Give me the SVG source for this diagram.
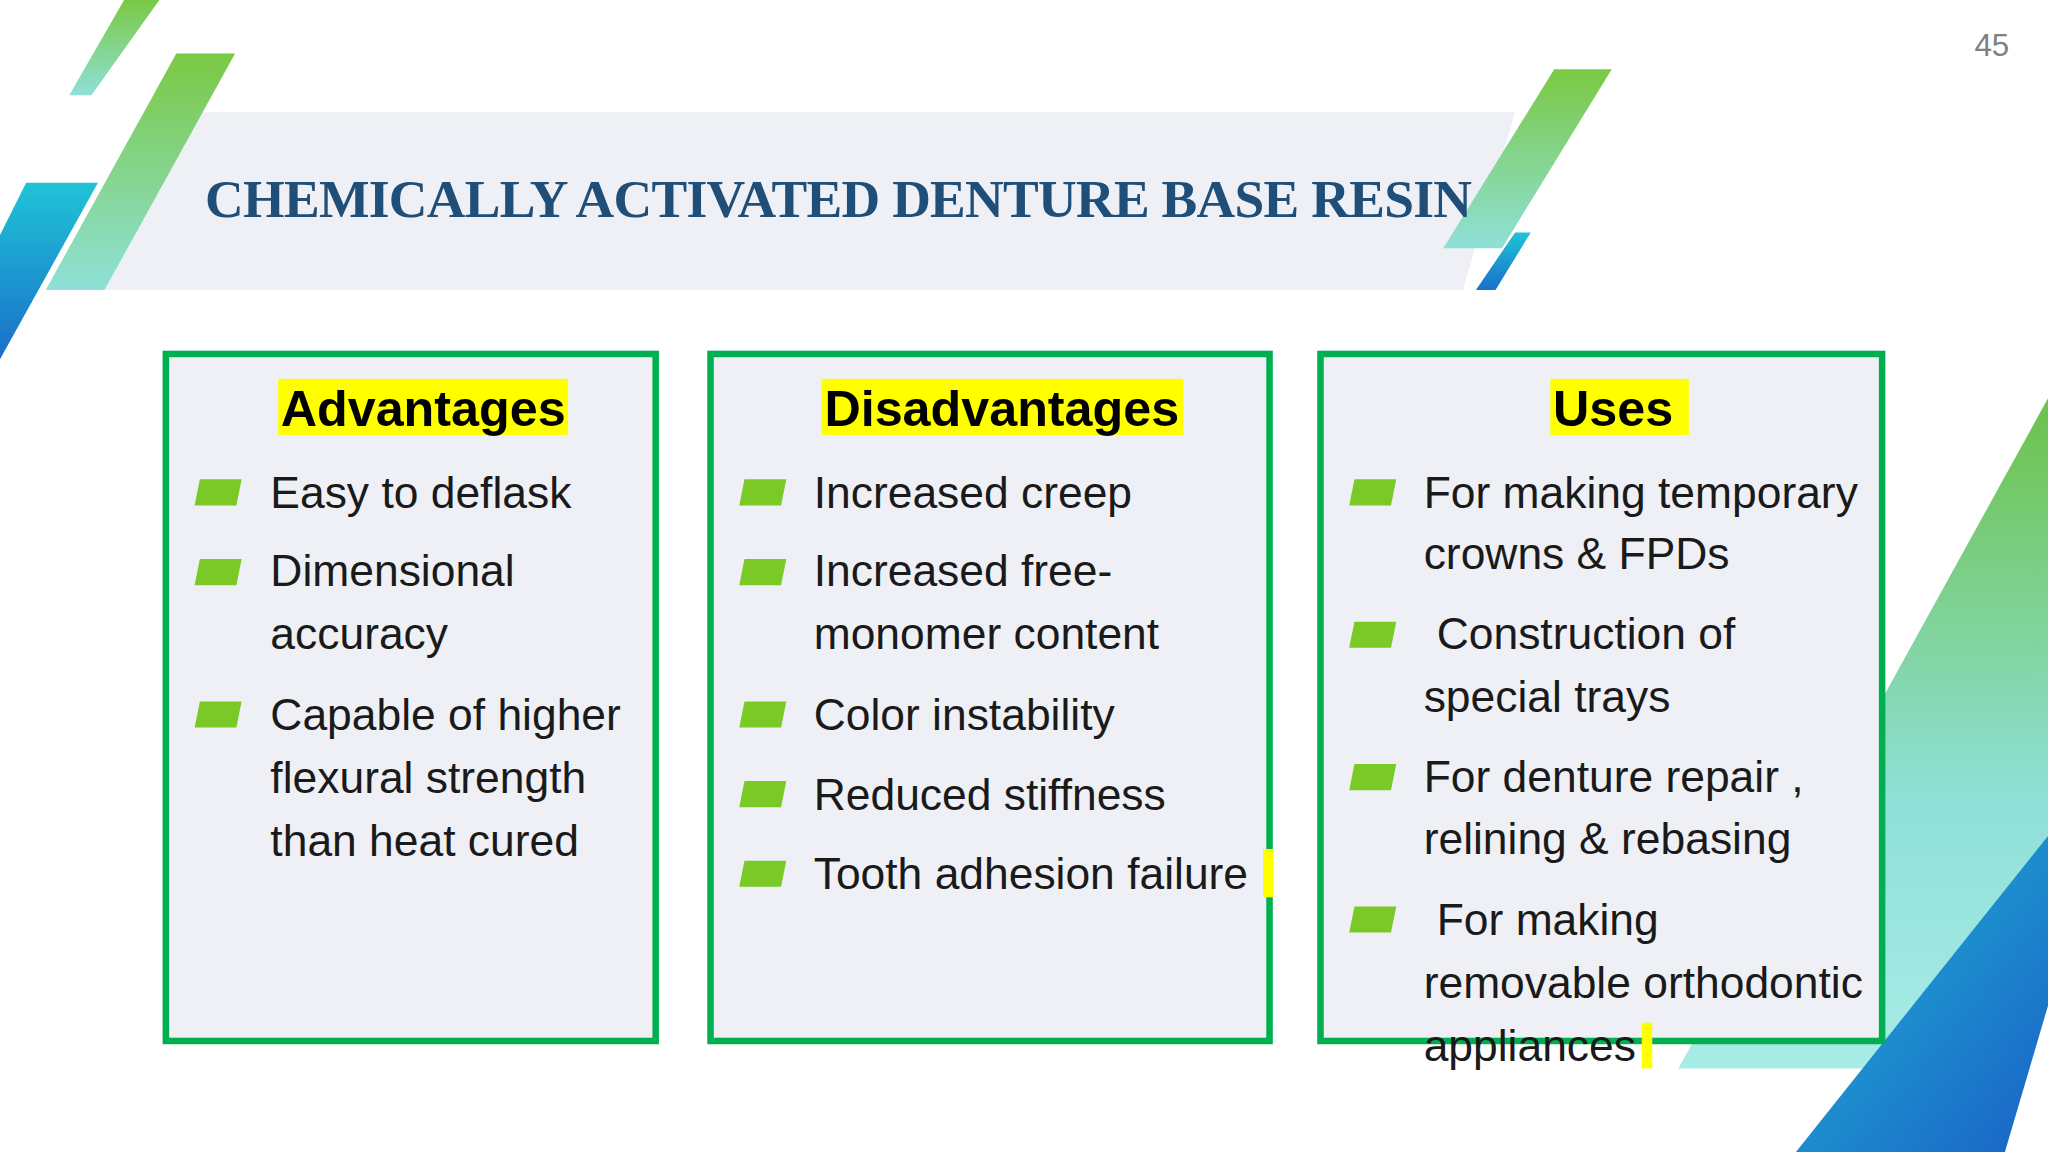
<svg xmlns="http://www.w3.org/2000/svg" width="2048" height="1152" viewBox="0 0 2048 1152">
<defs>
<linearGradient id="gt" x1="0" y1="0" x2="0" y2="1"><stop offset="0" stop-color="#7ac943"/><stop offset="1" stop-color="#8fe0d8"/></linearGradient>
<linearGradient id="gb" x1="0" y1="0" x2="0" y2="1"><stop offset="0" stop-color="#1fc4d6"/><stop offset="1" stop-color="#1a6fc9"/></linearGradient>
<linearGradient id="gr" x1="0" y1="0" x2="0" y2="1"><stop offset="0" stop-color="#6cc24a"/><stop offset="0.6" stop-color="#8fe0d8"/><stop offset="1" stop-color="#a8ece6"/></linearGradient>
<linearGradient id="gbr" x1="0" y1="0" x2="1" y2="1"><stop offset="0" stop-color="#20b7d6"/><stop offset="1" stop-color="#1a62c6"/></linearGradient>
<style>
.box{fill:#eef0f5;stroke:#00b050;stroke-width:5}
.hd{font-family:"Liberation Sans",Arial,sans-serif;font-weight:bold;font-size:38.5px;fill:#000;text-anchor:middle}
.t{font-family:"Liberation Sans",Arial,sans-serif;font-size:34px;fill:#1a1a1a}
.bl{fill:#7ac927}
.hl{fill:#ffff00}
</style>
<polygon id="bul" points="4,0 36,0 32,20 0,20"/>
</defs>
<rect width="2048" height="1152" fill="#ffffff"/>
<g transform="scale(1.30612)">
<g id="decor">
<polygon points="150,86 1160,86 1120,222 80,222" fill="#eef0f5"/>
<polygon points="95,0 122,0 70,73 53,73" fill="url(#gt)"/>
<polygon points="20,140 75,140 0,275 0,180" fill="url(#gb)"/>
<polygon points="135,41 180,41 80,222 35,222" fill="url(#gt)"/>
<polygon points="1190,53 1234,53 1150,190 1105,190" fill="url(#gt)"/>
<polygon points="1160,178 1172,178 1145,222 1130,222" fill="url(#gb)"/>
<polygon points="1568,305 1568,640 1460,818 1285,818" fill="url(#gr)"/>
<polygon points="1568,640 1568,770 1535,882 1375,882" fill="url(#gbr)"/>
</g>
<text x="1525" y="43" font-family="Liberation Sans,Arial,sans-serif" font-size="24" fill="#808080" text-anchor="middle">45</text>
<text id="title" x="157" y="166" font-family="Liberation Serif,Times New Roman,serif" font-weight="bold" font-size="41" fill="#1f4e79" textLength="970">CHEMICALLY ACTIVATED DENTURE BASE RESIN</text>
<g id="adv">
<rect class="box" x="127" y="271" width="375" height="526"/>
<rect class="hl" x="213" y="290" width="222" height="43"/>
<text class="hd" x="324" y="326">Advantages</text>
<use href="#bul" class="bl" x="149" y="367"/><use href="#bul" class="bl" x="149" y="428"/><use href="#bul" class="bl" x="149" y="537"/>
<text class="t" x="207" y="389">Easy to deflask</text>
<text class="t" x="207" y="449">Dimensional</text>
<text class="t" x="207" y="497">accuracy</text>
<text class="t" x="207" y="559">Capable of higher</text>
<text class="t" x="207" y="607">flexural strength</text>
<text class="t" x="207" y="655">than heat cured</text>
</g>
<g id="dis">
<rect class="box" x="544" y="271" width="428" height="526"/>
<rect class="hl" x="629" y="290" width="277" height="43"/>
<text class="hd" x="767" y="326">Disadvantages</text>
<use href="#bul" class="bl" x="566" y="367"/><use href="#bul" class="bl" x="566" y="428"/><use href="#bul" class="bl" x="566" y="537"/><use href="#bul" class="bl" x="566" y="598"/><use href="#bul" class="bl" x="566" y="659"/>
<text class="t" x="623" y="389">Increased creep</text>
<text class="t" x="623" y="449">Increased free-</text>
<text class="t" x="623" y="497">monomer content</text>
<text class="t" x="623" y="559">Color instability</text>
<text class="t" x="623" y="620">Reduced stiffness</text>
<text class="t" x="623" y="681">Tooth adhesion failure</text>
<rect class="hl" x="967" y="650" width="8" height="37"/>
</g>
<g id="uses">
<rect class="box" x="1011" y="271" width="430" height="526"/>
<rect class="hl" x="1187" y="290" width="106" height="43"/>
<text class="hd" x="1235" y="326">Uses</text>
<use href="#bul" class="bl" x="1033" y="367"/><use href="#bul" class="bl" x="1033" y="476"/><use href="#bul" class="bl" x="1033" y="585"/><use href="#bul" class="bl" x="1033" y="694"/>
<text class="t" x="1090" y="389">For making temporary</text>
<text class="t" x="1090" y="436">crowns &amp; FPDs</text>
<text class="t" x="1100" y="497">Construction of</text>
<text class="t" x="1090" y="545">special trays</text>
<text class="t" x="1090" y="606">For denture repair ,</text>
<text class="t" x="1090" y="654">relining &amp; rebasing</text>
<text class="t" x="1100" y="716">For making</text>
<text class="t" x="1090" y="764">removable orthodontic</text>
<text class="t" x="1090" y="812">appliances</text>
<rect class="hl" x="1257" y="783" width="8" height="35"/>
</g>
<g id="connectors"/>
</g>
</svg>
